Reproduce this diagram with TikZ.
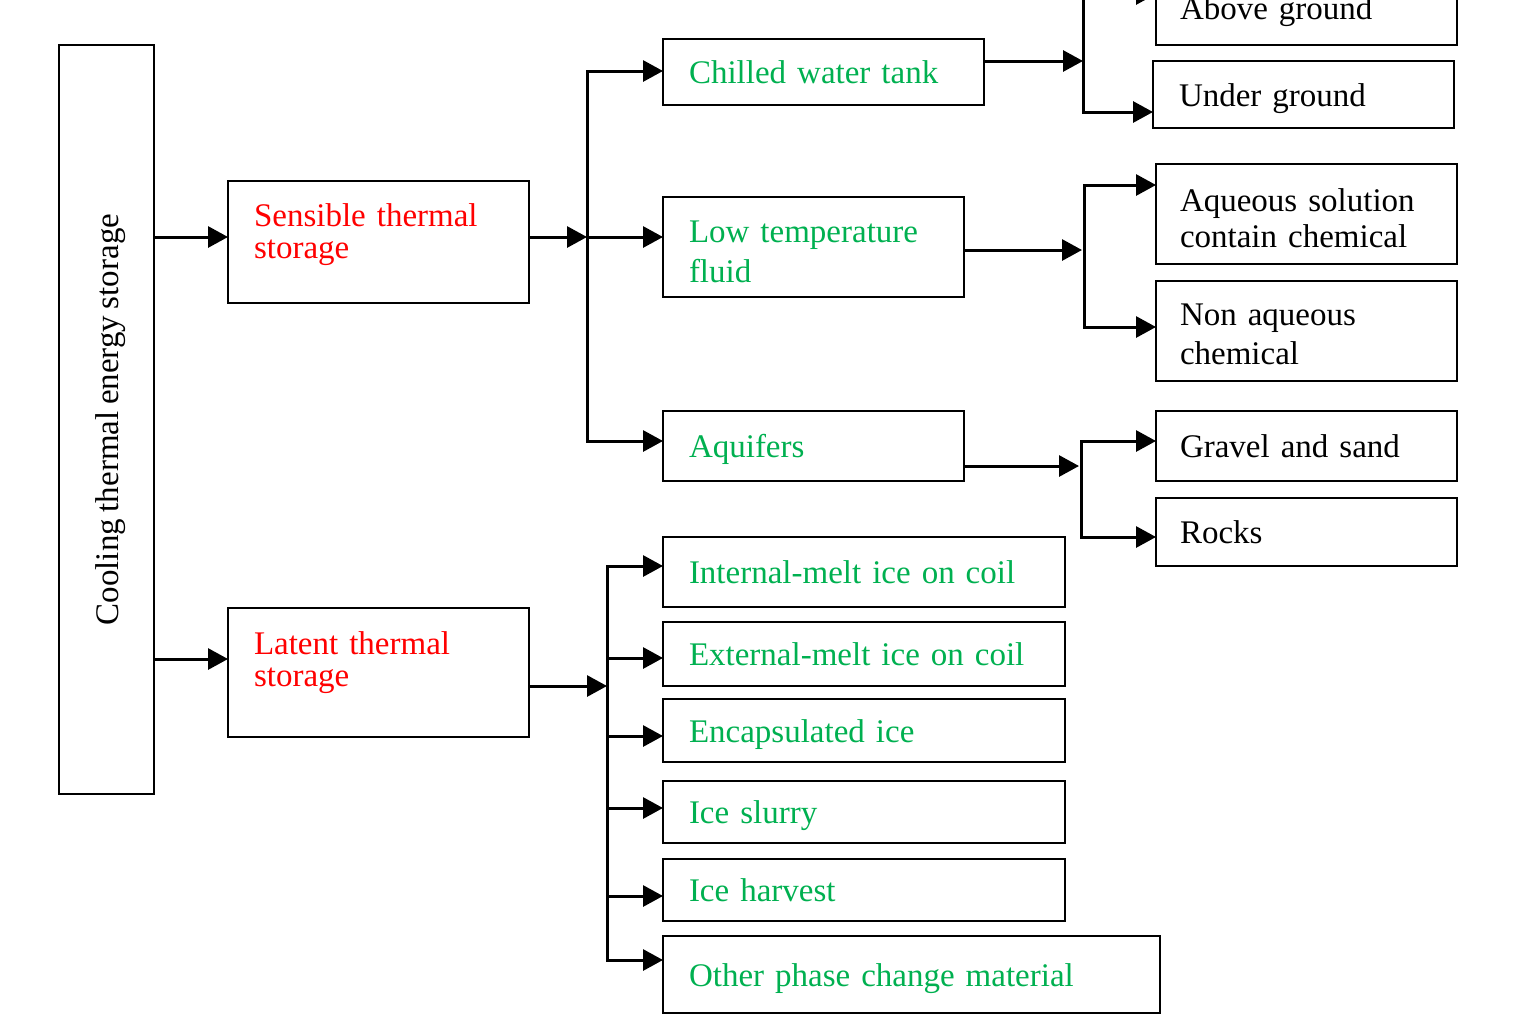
\documentclass[tikz,border=0pt]{standalone}
\usepackage{fontspec}
\setmainfont[WordSpace=0.8]{Liberation Serif}
\usetikzlibrary{arrows.meta}
\definecolor{tgreen}{RGB}{0,176,80}
\definecolor{tred}{RGB}{255,0,0}
\begin{document}
\begin{tikzpicture}[x=1pt,y=-1pt,
  box/.style={draw=black, line width=2pt, anchor=north west, inner xsep=26pt, inner ysep=0pt,
    outer sep=0pt, align=left, font=\fontsize{33}{40}\selectfont, text height=23pt, text depth=0pt},
  rbox/.style={box, inner xsep=24pt, text width=253pt},
  grn/.style={text=tgreen},
  rd/.style={text=tred},
  conn/.style={line width=3pt, line cap=rect},
  arr/.style={line width=3pt, -{Triangle[length=20pt,width=21pt]}},
]
\useasboundingbox (0,0) rectangle (1516,1026);
\clip (0,0) rectangle (1516,1026);

% main box
\node[draw, line width=2pt, rotate=90, minimum width=749pt, minimum height=95pt, inner sep=0pt,
  outer sep=0pt, font=\fontsize{33}{40}\selectfont, text height=23pt, text depth=0pt]
  (main) at (106.5,419.5) {Cooling thermal energy storage};

% level 1
\node[box, rd, text width=249pt, minimum height=122pt, font=\fontsize{33}{32}\selectfont,
  text height=0pt, text depth=32pt] (sens) at (228,181) {Sensible thermal\\storage};
\node[box, rd, text width=249pt, minimum height=129pt, font=\fontsize{33}{32}\selectfont,
  text height=0pt, text depth=37pt] (lat) at (228,608) {Latent thermal\\storage};

% level 2 (sensible)
\node[box, grn, text width=269pt, minimum height=66pt] (chill) at (663,39) {Chilled water tank};
\node[box, grn, text width=249pt, minimum height=100pt, font=\fontsize{33}{40}\selectfont,
  text height=0pt, text depth=10pt] (low) at (663,197) {Low temperature\\fluid};
\node[box, grn, text width=249pt, minimum height=70pt] (aqf) at (663,411) {Aquifers};

% level 2 (latent)
\node[box, grn, text width=350pt, minimum height=70pt] (int) at (663,537) {Internal-melt ice on coil};
\node[box, grn, text width=350pt, minimum height=64pt] (ext) at (663,622) {External-melt ice on coil};
\node[box, grn, text width=350pt, minimum height=63pt] (enc) at (663,699) {Encapsulated ice};
\node[box, grn, text width=350pt, minimum height=62pt] (slurry) at (663,781) {Ice slurry};
\node[box, grn, text width=350pt, minimum height=62pt] (harv) at (663,859) {Ice harvest};
\node[box, grn, text width=445pt, minimum height=77pt] (other) at (663,936) {Other phase change material};

% level 3
\node[rbox, minimum height=74pt] (above) at (1156,-29) {Above ground};
\node[box, text width=249pt, minimum height=67pt] (under) at (1153,61) {Under ground};
\node[rbox, minimum height=100pt, font=\fontsize{33}{36}\selectfont,
  text height=0pt, text depth=5pt] (aqs) at (1156,164) {Aqueous solution\\contain chemical};
\node[rbox, minimum height=100pt, font=\fontsize{33}{39}\selectfont,
  text height=0pt, text depth=12pt] (nonaq) at (1156,281) {Non aqueous\\chemical};
\node[rbox, minimum height=70pt] (gravel) at (1156,411) {Gravel and sand};
\node[rbox, minimum height=68pt] (rocks) at (1156,498) {Rocks};

% helper coordinates
\coordinate (ys) at (0,237);
\coordinate (yl) at (0,659);
\coordinate (sb) at (587,237);
\coordinate (sbt) at (587,71);
\coordinate (sbb) at (587,441);
\coordinate (lb) at (607,686);
\coordinate (l1) at (607,566);
\coordinate (l2) at (607,658);
\coordinate (l3) at (607,736);
\coordinate (l4) at (607,808);
\coordinate (l5) at (607,896);
\coordinate (l6) at (607,960);
\coordinate (cb) at (1083,61);
\coordinate (cbt) at (1083,-6);
\coordinate (cbb) at (1083,112);
\coordinate (tb) at (1082,250);
\coordinate (tbt) at (1084,185);
\coordinate (tbb) at (1084,327);
\coordinate (qb) at (1079,466);
\coordinate (qbt) at (1081,441);
\coordinate (qbb) at (1081,537);

% main -> level 1
\draw[arr] (main.south |- ys) -- (sens.west |- ys);
\draw[arr] (main.south |- yl) -- (lat.west |- yl);

% sensible
\draw[arr] (sens.east |- sb) -- (sb);
\draw[conn] (sbt) -- (sbb);
\draw[arr] (sbt) -- (chill.west |- sbt);
\draw[arr] (sb) -- (low.west |- sb);
\draw[arr] (sbb) -- (aqf.west |- sbb);

% latent
\draw[arr] (lat.east |- lb) -- (lb);
\draw[conn] (l1) -- (l6);
\draw[arr] (l1) -- (int.west |- l1);
\draw[arr] (l2) -- (ext.west |- l2);
\draw[arr] (l3) -- (enc.west |- l3);
\draw[arr] (l4) -- (slurry.west |- l4);
\draw[arr] (l5) -- (harv.west |- l5);
\draw[arr] (l6) -- (other.west |- l6);

% chilled water tank
\draw[arr] (chill.east |- cb) -- (cb);
\draw[conn] (cbt) -- (cbb);
\draw[arr] (cbt) -- (above.west |- cbt);
\draw[arr] (cbb) -- (under.west |- cbb);

% low temperature fluid
\draw[arr] (low.east |- tb) -- (tb);
\draw[conn] (tbt) -- (tbb);
\draw[arr] (tbt) -- (aqs.west |- tbt);
\draw[arr] (tbb) -- (nonaq.west |- tbb);

% aquifers
\draw[arr] (aqf.east |- qb) -- (qb);
\draw[conn] (qbt) -- (qbb);
\draw[arr] (qbt) -- (gravel.west |- qbt);
\draw[arr] (qbb) -- (rocks.west |- qbb);
\end{tikzpicture}
\end{document}
